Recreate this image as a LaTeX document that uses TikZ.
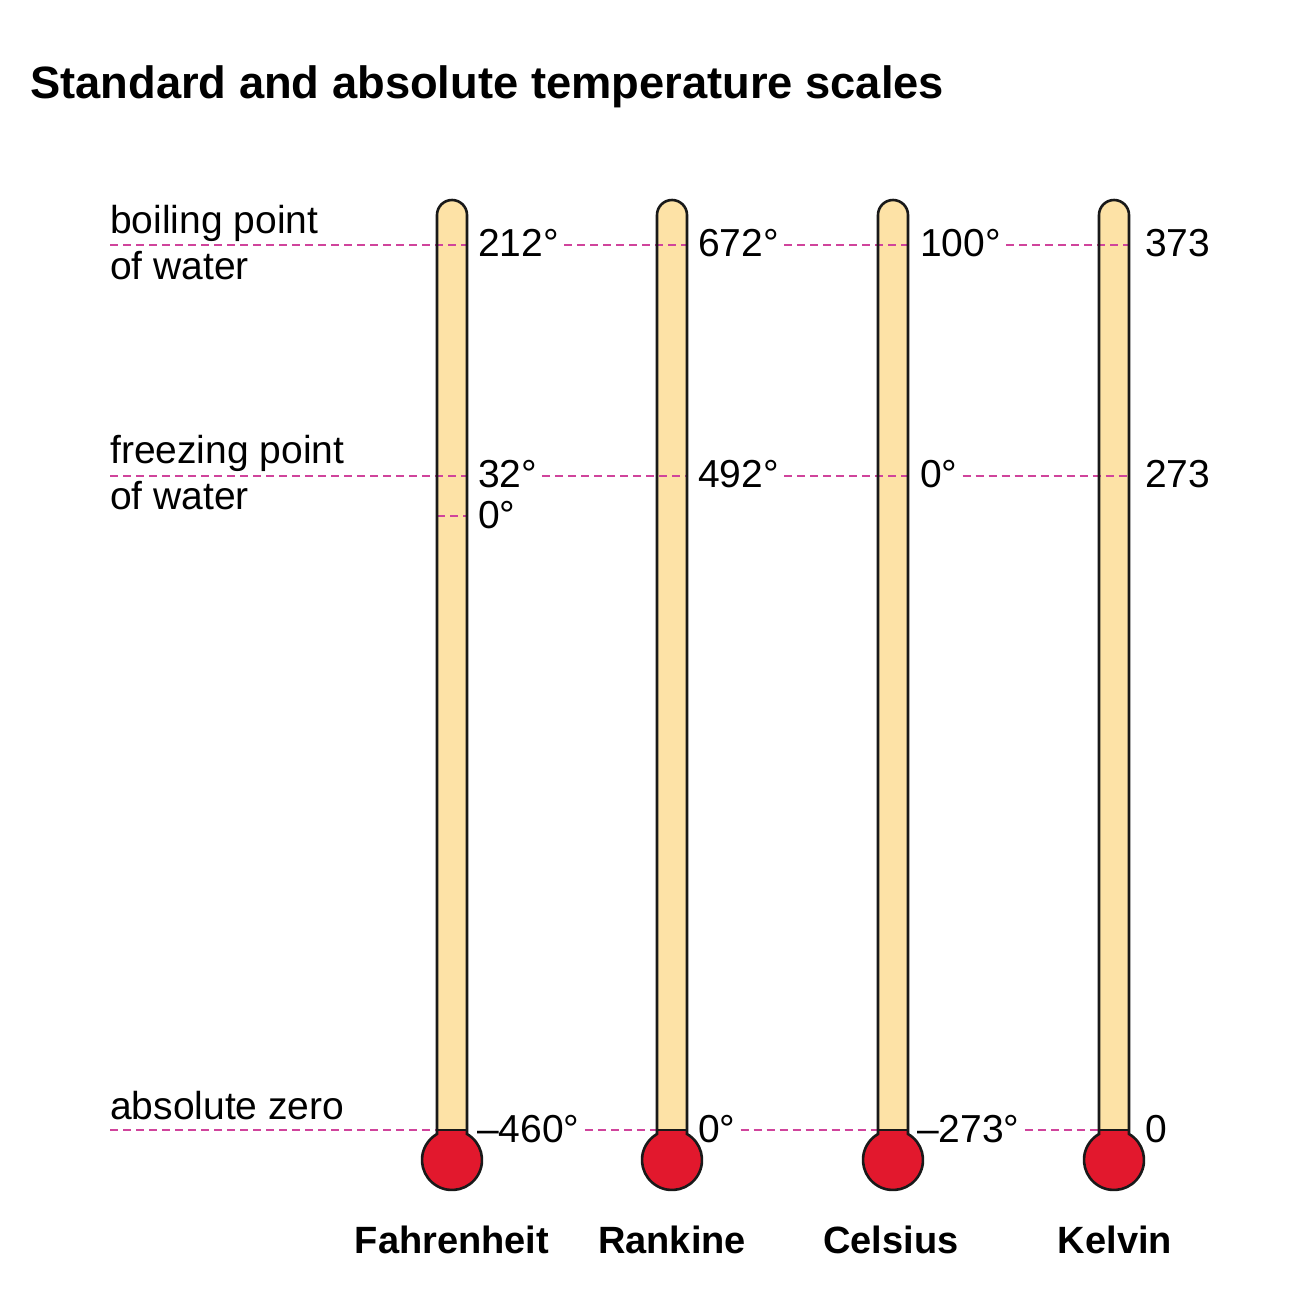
\documentclass[tikz,border=0pt]{standalone}
\usepackage{fontspec}
\setmainfont{Liberation Sans}
\definecolor{tubefill}{HTML}{FDE2A6}
\definecolor{bulbred}{HTML}{E2182D}
\definecolor{dashcol}{HTML}{D0449C}
\begin{document}
\begin{tikzpicture}[x=1pt,y=-1pt,
  lbl/.style={anchor=base west,inner sep=0pt,font=\fontsize{39}{46}\selectfont},
  scalename/.style={anchor=base,inner sep=0pt,font=\fontsize{38}{46}\selectfont\bfseries},
  guide/.style={draw=dashcol,line width=2.4pt,dash pattern=on 8pt off 5pt},
  tubeline/.style={draw=black!90,line width=2.6pt}]
\useasboundingbox (0,0) rectangle (1302,1302);
\fill[white] (0,0) rectangle (1302,1302);
\node[anchor=base west,inner sep=0pt,font=\fontsize{45.3}{54}\selectfont\bfseries] (title) at (30,98) {Standard and absolute temperature scales};
% thermometers
\foreach \cx/\nm in {452/F,672/R,893/C,1114/K}{
  \fill[tubefill] (\cx-15,215) arc[start angle=180,end angle=360,radius=15] -- (\cx+15,1130) -- (\cx-15,1130) -- cycle;
  \coordinate (\nm L) at (\cx-15,0);
  \coordinate (\nm R) at (\cx+15,0);
}
% labels
\node[lbl] (bp1) at (110,233) {boiling point};
\node[lbl] (bp2) at (110,279) {of water};
\node[lbl] (fp1) at (110,463) {freezing point};
\node[lbl] (fp2) at (110,509) {of water};
\node[lbl] (az) at (110,1119) {absolute zero};
\node[lbl] (F1) at (478,256) {212°};
\node[lbl] (R1) at (698,256) {672°};
\node[lbl] (C1) at (920,256) {100°};
\node[lbl] (K1) at (1145,256) {373};
\node[lbl] (F2) at (478,487) {32°};
\node[lbl] (F0) at (478,528) {0°};
\node[lbl] (R2) at (698,487) {492°};
\node[lbl] (C2) at (920,487) {0°};
\node[lbl] (K2) at (1145,487) {273};
\node[lbl] (F3) at (477,1142) {–460°};
\node[lbl] (R3) at (698,1142) {0°};
\node[lbl] (C3) at (917,1142) {–273°};
\node[lbl] (K3) at (1145,1142) {0};
% guide lines
\coordinate (s1) at (110,245);
\coordinate (s2) at (110,476);
\coordinate (s3) at (110,1130);
\draw[guide] (s1) -- (s1 -| FR);
\draw[guide] ([xshift=5pt]F1.east |- s1) -- (s1 -| RR);
\draw[guide] ([xshift=5pt]R1.east |- s1) -- (s1 -| CR);
\draw[guide] ([xshift=5pt]C1.east |- s1) -- (s1 -| KR);
\draw[guide] (s2) -- (s2 -| FR);
\draw[guide] ([xshift=5pt]F2.east |- s2) -- (s2 -| RR);
\draw[guide] ([xshift=5pt]R2.east |- s2) -- (s2 -| CR);
\draw[guide] ([xshift=5pt]C2.east |- s2) -- (s2 -| KR);
\coordinate (s0) at (437,516);
\draw[guide] (s0) -- (s0 -| FR);
\draw[guide] (s3) -- (s3 -| FL);
\draw[guide] ([xshift=5pt]F3.east |- s3) -- (s3 -| RL);
\draw[guide] ([xshift=5pt]R3.east |- s3) -- (s3 -| CL);
\draw[guide] ([xshift=5pt]C3.east |- s3) -- (s3 -| KL);
% bulbs and outlines
\foreach \cx in {452,672,893,1114}{
  \fill[bulbred] (\cx-15,1130) -- (\cx+15,1130) -- (\cx+15,1134) arc[start angle=-60,end angle=240,radius=30] -- cycle;
  \draw[tubeline] (\cx-15,215) arc[start angle=180,end angle=360,radius=15] -- (\cx+15,1134) arc[start angle=-60,end angle=240,radius=30] -- cycle;
  \draw[black!90,line width=2pt] (\cx-15,1130) -- (\cx+15,1130);
}
\node[scalename] (nF) at (452,1253) {Fahrenheit};
\node[scalename] (nR) at (672,1253) {Rankine};
\node[scalename] (nC) at (891,1253) {Celsius};
\node[scalename] (nK) at (1115,1253) {Kelvin};
\end{tikzpicture}
\end{document}
